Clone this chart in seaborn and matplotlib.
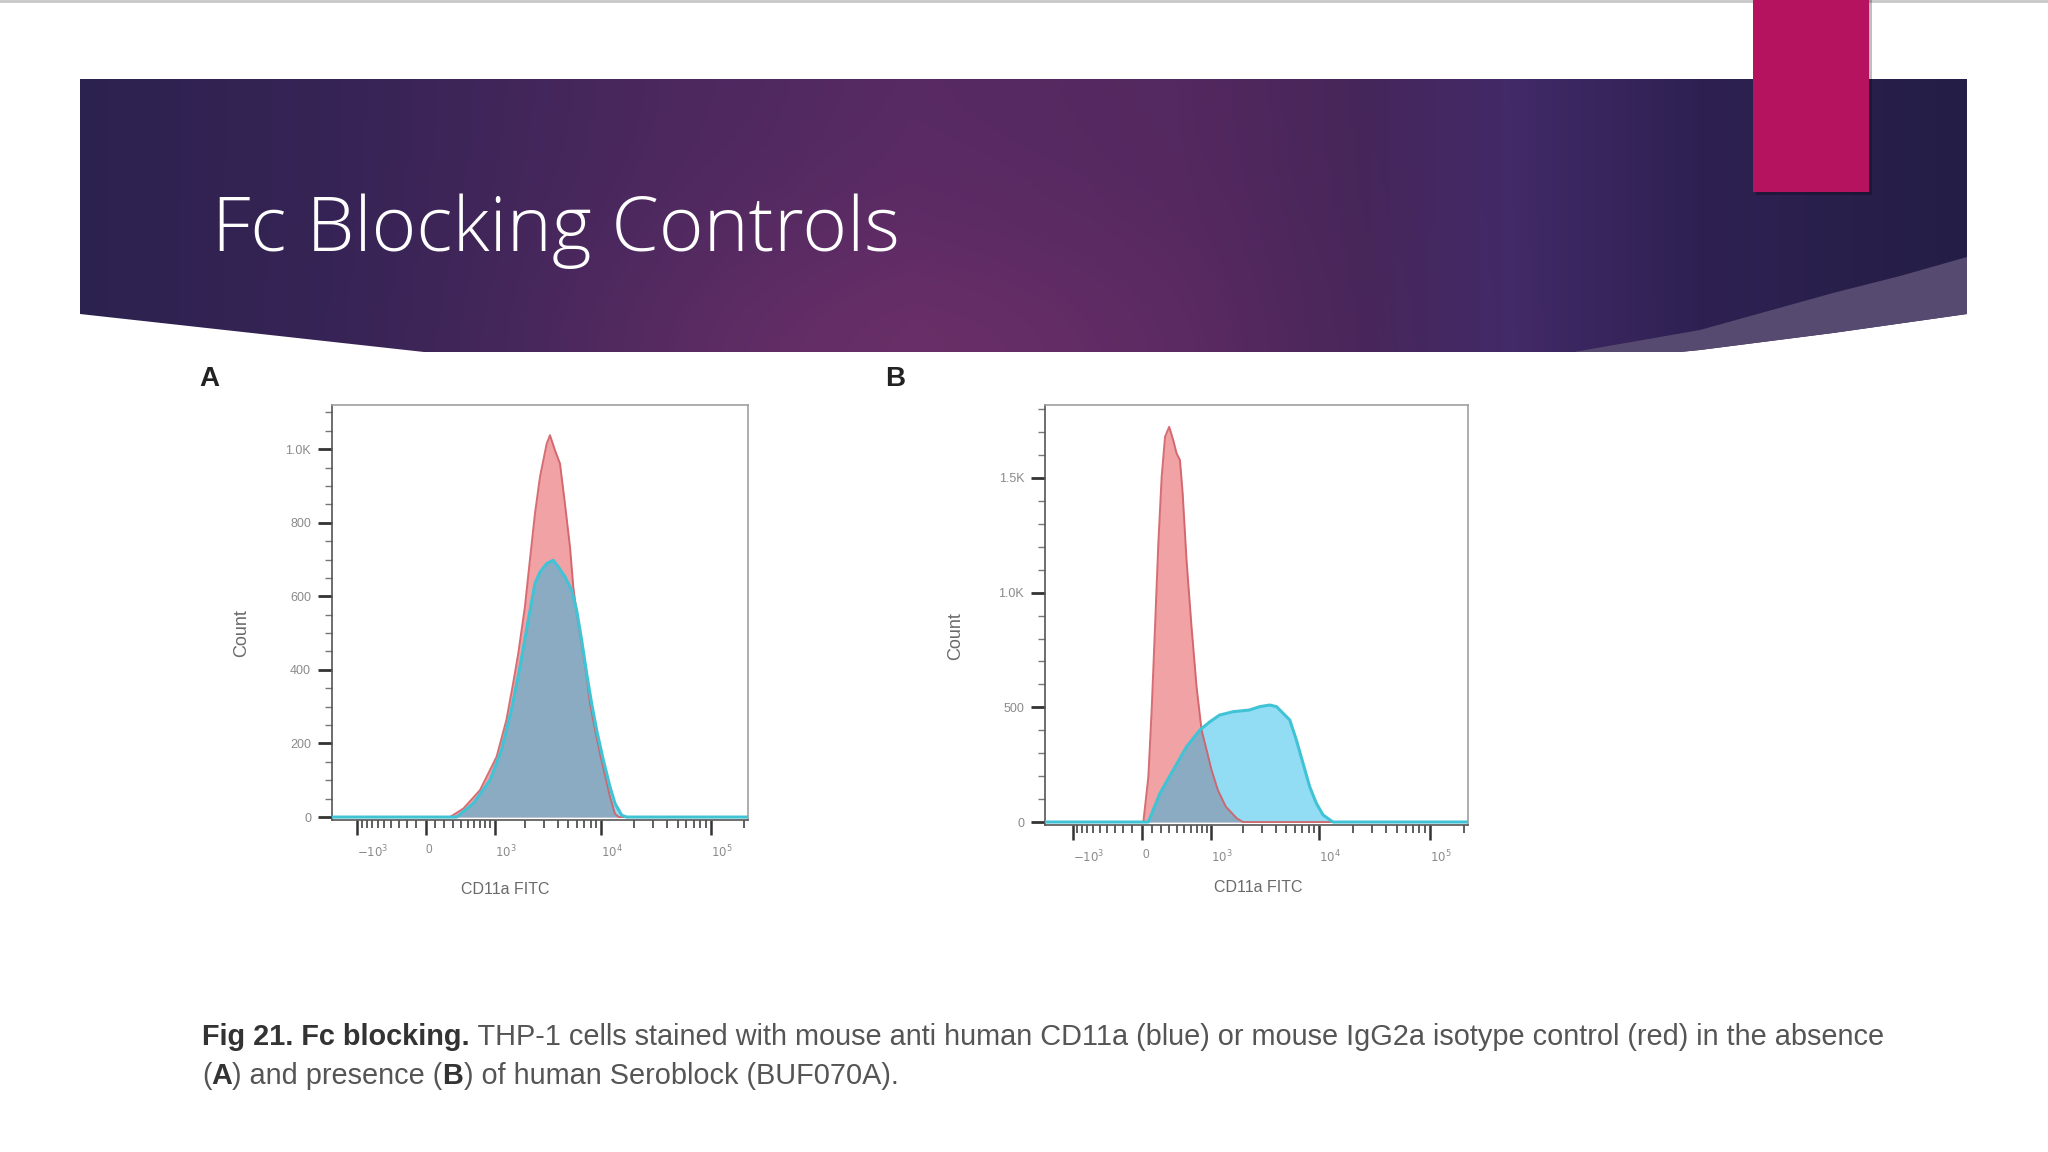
import numpy as np
import matplotlib
matplotlib.use("Agg")
import matplotlib.pyplot as plt
from matplotlib.patches import Polygon, Rectangle
from matplotlib.colors import LinearSegmentedColormap
from matplotlib.ticker import FixedLocator
import seaborn as sns

sns.set_style("white")
plt.rcParams["font.family"] = ["Liberation Sans", "DejaVu Sans"]

# ---- data (CD11a FITC vs count) ----
a_red_x = [-1770, 263, 435, 699, 1050, 1314, 1525, 1710, 1975, 2200, 2455, 2735, 3155, 3385,
           3765, 4185, 4650, 5175, 5550, 5955, 6620, 7360, 7895, 9085, 9745, 12030, 13365,
           14500, 220000]
a_red_y = [0, 0, 23, 73, 164, 264, 363, 445, 571, 698, 825, 925, 1015, 1038,
           997, 961, 852, 734, 625, 555, 470, 380, 308, 215, 172, 55, 9,
           0, 0]
a_blue_x = [-1770, 346, 585, 897, 1176, 1470, 1775, 2125, 2455, 2735, 3155, 3630, 4040, 4650,
            5360, 5955, 6620, 7360, 8175, 9085, 10450, 12030, 13365, 15370, 17085, 220000]
a_blue_y = [0, 0, 37, 100, 182, 291, 408, 535, 635, 666, 689, 698, 680, 653,
            617, 562, 481, 390, 308, 236, 155, 82, 37, 5, 0, 0]

b_red_x = [-1850, 14, 66, 101, 137, 173, 210, 249, 298, 348, 392, 437, 475, 532, 611, 697,
           790, 893, 1002, 1160, 1385, 1760, 2015, 220000]
b_red_y = [0, 0, 197, 488, 851, 1215, 1505, 1680, 1723, 1665, 1607, 1578, 1433, 1142, 851, 590,
           401, 314, 227, 139, 67, 16, 0, 0]
b_blue_x = [-1850, 66, 191, 348, 532, 757, 964, 1200, 1625, 2290, 2870, 3545, 4080, 4685,
            5385, 6185, 7100, 8155, 9365, 10760, 13250, 220000]
b_blue_y = [0, 0, 125, 227, 328, 401, 437, 466, 481, 488, 503, 510, 503, 474,
            445, 357, 256, 154, 82, 31, 0, 0]

x_ticks = [-1000, 0, 1000, 10000, 100000]
x_tick_labels = [r"$-10^3$", "0", r"$10^3$", r"$10^4$", r"$10^5$"]
a_y_ticks = [0, 200, 400, 600, 800, 1000]
a_y_labels = ["0", "200", "400", "600", "800", "1.0K"]
b_y_ticks = [0, 500, 1000, 1500]
b_y_labels = ["0", "500", "1.0K", "1.5K"]

title = "Fc Blocking Controls"
x_label = "CD11a FITC"
y_label = "Count"

# ---- figure and slide background ----
fig = plt.figure(figsize=(20.48, 11.52), dpi=100)
bg = fig.add_axes([0, 0, 1, 1])
bg.set_xlim(0, 2048)
bg.set_ylim(1152, 0)
bg.axis("off")
bg.plot([0, 2048], [1, 1], color="#c8c8c8", lw=2)

band = [(80, 79), (1967, 79), (1967, 314), (1833, 333), (1700, 350), (1680, 352),
        (424, 352), (80, 314)]
band_patch = Polygon(band, closed=True, facecolor="none", edgecolor="none")
bg.add_patch(band_patch)

stops = [(0.0, (44, 34, 80)), (0.15, (56, 36, 86)), (0.3, (74, 40, 94)), (0.44, (88, 42, 100)),
         (0.58, (84, 40, 96)), (0.68, (70, 38, 90)), (0.76, (66, 42, 104)), (0.86, (46, 33, 82)),
         (1.0, (36, 30, 70))]
grad = LinearSegmentedColormap.from_list("band", [(p, tuple(c / 255 for c in rgb)) for p, rgb in stops])
gx, gy = np.meshgrid(np.linspace(0, 1, 500), np.linspace(0, 1, 120))
img = grad(gx)[..., :3]
glow = 0.55 * np.exp(-((gx - 0.44) ** 2 / 0.025 + (gy - 1.05) ** 2 / 0.3))
img = img * (1 - glow[..., None]) + np.array([118, 50, 106]) / 255 * glow[..., None]
im = bg.imshow(img, extent=(80, 1967, 352, 79), aspect="auto", zorder=1)
im.set_clip_path(band_patch)

wedge = [(1967, 257), (1900, 276), (1833, 293), (1700, 330), (1574, 352), (1680, 352),
         (1700, 350), (1833, 333), (1967, 314)]
bg.add_patch(Polygon(wedge, closed=True, facecolor="#574a70", edgecolor="none", zorder=2))

bg.add_patch(Rectangle((1756, 0), 116, 195, facecolor="black", alpha=0.25, lw=0, zorder=3))
bg.add_patch(Rectangle((1753, 0), 116, 192, facecolor="#b5135f", lw=0, zorder=4))

bg.text(212, 251, title, color="white", fontsize=55, family=["Open Sans", "DejaVu Sans"],
        fontweight="light", va="baseline", ha="left", zorder=5)

bg.text(199, 379, "A", fontsize=20, fontweight="bold", color="#222222", va="center")
bg.text(885, 379, "B", fontsize=20, fontweight="bold", color="#222222", va="center")


def fwd(x):
    return np.arcsinh(np.asarray(x, dtype=float) / 500.0)


def inv(u):
    return 500.0 * np.sinh(u)


x_minor = ([-v for v in range(100, 1000, 100)] + list(range(100, 1000, 100))
           + list(range(2000, 10000, 1000)) + list(range(20000, 100000, 10000)) + [200000])


def histo(ax, rx, ry, bx, by, yt, yl, ymax, ystep, ybottom, xlim, xlab, ylab_x):
    ax.set_xscale("function", functions=(fwd, inv))
    ax.fill_between(rx, ry, color=(232 / 255, 100 / 255, 105 / 255), alpha=0.6, lw=0, zorder=1)
    ax.fill_between(bx, by, color=(20 / 255, 182 / 255, 232 / 255), alpha=0.46, lw=0, zorder=2)
    sns.lineplot(x=rx, y=ry, ax=ax, color="#d25f66", lw=1.4, alpha=0.9, sort=False,
                 estimator=None, zorder=3)
    sns.lineplot(x=bx, y=by, ax=ax, color="#3fc3d5", lw=2.2, sort=False,
                 estimator=None, zorder=4)
    ax.set_xlim(*xlim)
    ax.set_ylim(ybottom, ymax)
    ax.set_xticks(x_ticks)
    ax.set_xticklabels(x_tick_labels, ha="left")
    ax.xaxis.set_minor_locator(FixedLocator(x_minor))
    ax.set_yticks(yt)
    ax.set_yticklabels(yl)
    ax.yaxis.set_minor_locator(FixedLocator(np.arange(0, ymax, ystep)))
    ax.tick_params(bottom=True, left=True, which="both", direction="out")
    ax.tick_params(axis="x", which="major", length=11, width=1.8, color="#333333",
                   labelsize=8.5, labelcolor="#8a8a8a", pad=6)
    ax.tick_params(axis="x", which="minor", length=6, width=1.2, color="#444444")
    ax.tick_params(axis="y", which="major", length=10, width=2, color="#333333",
                   labelsize=9, labelcolor="#8a8a8a", pad=5)
    ax.tick_params(axis="y", which="minor", length=5, width=1, color="#777777")
    for s in ax.spines.values():
        s.set_color("#a0a0a0")
        s.set_linewidth(1.2)
    ax.spines["left"].set_color("#555555")
    ax.spines["bottom"].set_color("#555555")
    ax.set_xlabel(x_label, fontsize=11.5, color="#6a6a6a")
    ax.set_ylabel(y_label, fontsize=13, color="#6a6a6a")
    ax.xaxis.set_label_coords(*xlab)
    ax.yaxis.set_label_coords(ylab_x, 0.45)
    ax.set_facecolor("white")


axA = fig.add_axes([332 / 2048, 1 - 820 / 1152, 416 / 2048, 415 / 1152])
histo(axA, a_red_x, a_red_y, a_blue_x, a_blue_y, a_y_ticks, a_y_labels, 1120, 50, -8,
      (-1770, 219600), (0.416, -0.149), -0.197)

axB = fig.add_axes([1045 / 2048, 1 - 825 / 1152, 423 / 2048, 420 / 1152])
histo(axB, b_red_x, b_red_y, b_blue_x, b_blue_y, b_y_ticks, b_y_labels, 1818, 100, -13,
      (-1845, 219400), (0.504, -0.132), -0.192)

# ---- caption with bold fragments ----
cap_font = ["Liberation Sans", "DejaVu Sans"]
renderer = fig.canvas.get_renderer()


def rich_line(x, y, parts, size=20.8):
    for txt, weight in parts:
        t = bg.text(x, y, txt, fontsize=size, fontweight=weight, family=cap_font,
                    color="#333333" if weight == "bold" else "#555555", va="baseline", ha="left")
        x += t.get_window_extent(renderer=renderer).width


rich_line(202, 1045, [("Fig 21. Fc blocking.", "bold"),
                      (" THP-1 cells stained with mouse anti human CD11a (blue) or mouse IgG2a "
                       "isotype control (red) in the absence", "normal")])
rich_line(202, 1084, [("(", "normal"), ("A", "bold"), (") and presence (", "normal"), ("B", "bold"),
                      (") of human Seroblock (BUF070A).", "normal")])

fig.savefig("out.png", dpi=100)
